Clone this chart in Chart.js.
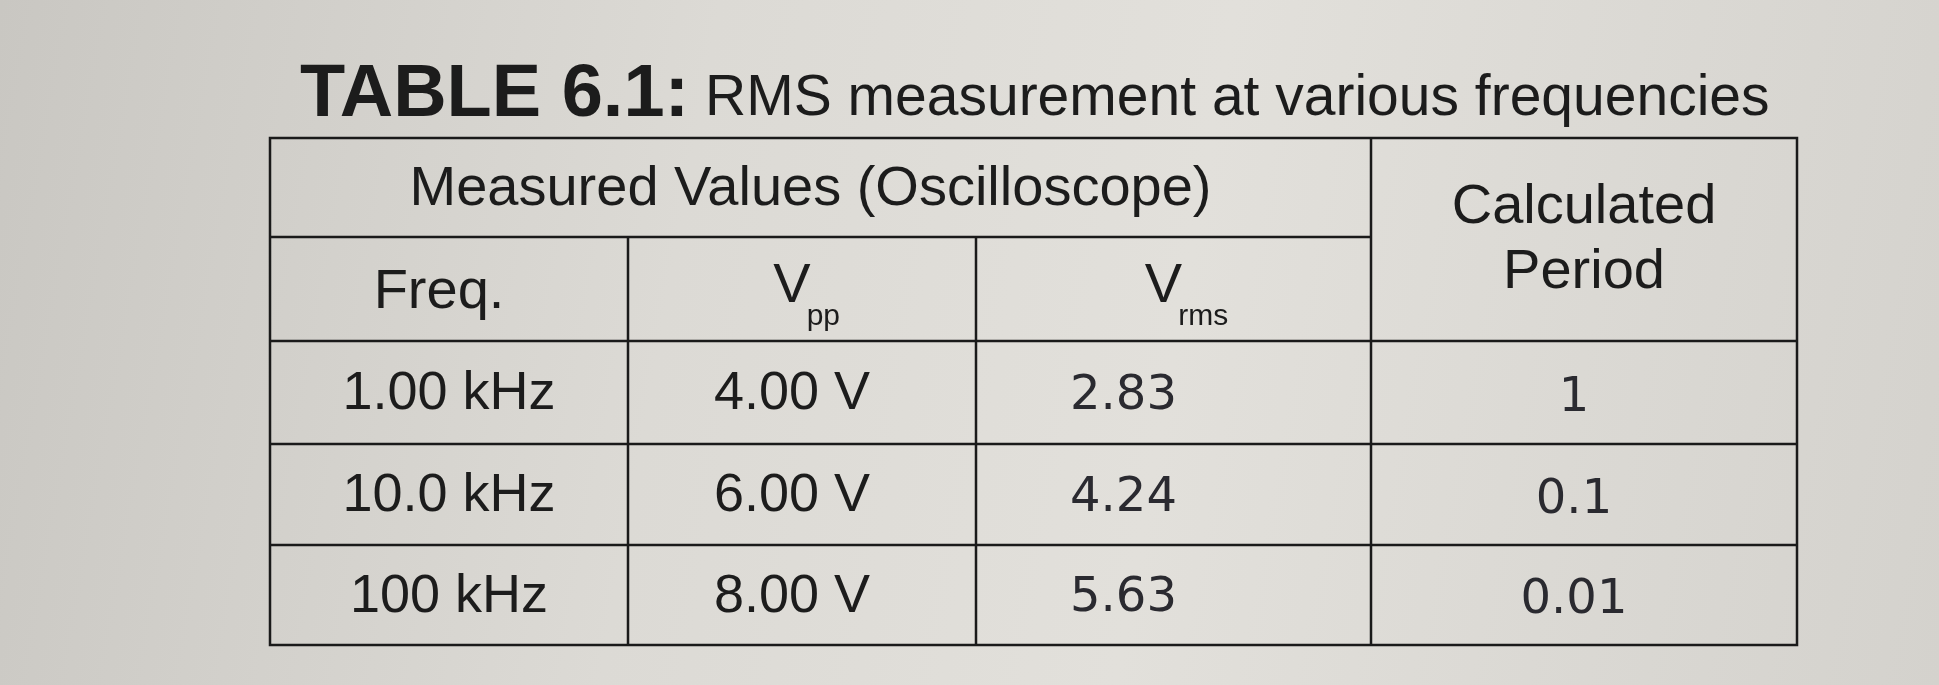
<!DOCTYPE html>
<html><head><meta charset="utf-8">
<script src="https://cdn.jsdelivr.net/npm/chart.js@4"></script>
<style>
html,body{margin:0;padding:0;}
body{width:1939px;height:685px;background:linear-gradient(100deg,#c9c7c2 0%,#dcdad5 35%,#e2e0db 60%,#d4d2cd 100%);overflow:hidden;}
canvas{display:block;}
</style></head><body>
<canvas id="c" width="1939" height="685"></canvas>
<script>
const title = ["TABLE 6.1:", " RMS measurement at various frequencies"];
const groupHeader = "Measured Values (Oscilloscope)";
const calcHeader = ["Calculated", "Period"];
const columnHeaders = [["Freq.",""],["V","pp"],["V","rms"]];
const freqs = ["1.00 kHz","10.0 kHz","100 kHz"];
const vpp = ["4.00 V","6.00 V","8.00 V"];
const vrms = ["2.83","4.24","5.63"];
const period = ["1","0.1","0.01"];
const colEdges = [0, 358, 706, 1101, 1527];
const rowEdges = [0, 99, 203, 306, 407, 507];

const tablePlugin = {
  id:'table',
  afterDraw(chart){
    const {ctx, scales:{x,y}} = chart;
    const X = v=>x.getPixelForValue(v), Y = v=>y.getPixelForValue(v);
    ctx.save();
    ctx.strokeStyle='#1a1a1a'; ctx.lineWidth=2.5;
    ctx.strokeRect(X(0),Y(0),X(1527)-X(0),Y(507)-Y(0));
    ctx.beginPath();
    ctx.moveTo(X(colEdges[3]),Y(0)); ctx.lineTo(X(colEdges[3]),Y(507));
    ctx.moveTo(X(colEdges[1]),Y(rowEdges[1])); ctx.lineTo(X(colEdges[1]),Y(507));
    ctx.moveTo(X(colEdges[2]),Y(rowEdges[1])); ctx.lineTo(X(colEdges[2]),Y(507));
    ctx.moveTo(X(0),Y(rowEdges[1])); ctx.lineTo(X(colEdges[3]),Y(rowEdges[1]));
    for(let i=2;i<5;i++){ctx.moveTo(X(0),Y(rowEdges[i])); ctx.lineTo(X(1527),Y(rowEdges[i]));}
    ctx.stroke();
    ctx.fillStyle='#1c1c1c'; ctx.textAlign='center'; ctx.textBaseline='middle';
    const F="'Liberation Sans', Arial, sans-serif";
    const cx=i=>(X(colEdges[i])+X(colEdges[i+1]))/2, cy=i=>(Y(rowEdges[i])+Y(rowEdges[i+1]))/2;
    ctx.textAlign='left';
    let tx=X(0)+30, ty=Y(0)-42;
    ctx.font='bold 74px '+F; const w1=ctx.measureText(title[0]).width;
    ctx.fillText(title[0],tx,ty);
    ctx.font='57px '+F; ctx.fillText(title[1],tx+w1,ty+3);
    ctx.textAlign='center';
    ctx.font='56px '+F;
    ctx.fillText(groupHeader,(X(0)+X(colEdges[3]))/2-10,cy(0)+2);
    ctx.fillText(calcHeader[0],cx(3),Y(70));
    ctx.fillText(calcHeader[1],cx(3),Y(135));
    columnHeaders.forEach((h,i)=>{
      ctx.font='56px '+F;
      if(!h[1]){ctx.fillText(h[0],cx(i)-10,cy(1)+4); return;}
      const mw=ctx.measureText(h[0]).width;
      ctx.fillText(h[0],cx(i)-10,cy(1)-2);
      ctx.font='30px '+F; ctx.textAlign='left';
      ctx.fillText(h[1],cx(i)-10+mw/2-4,cy(1)+28);
      ctx.textAlign='center';
    });
    ctx.font='54px '+F;
    for(let r=0;r<3;r++){
      ctx.fillText(freqs[r],cx(0),cy(r+2)+2);
      ctx.fillText(vpp[r],cx(1)-10,cy(r+2)+2);
    }
    ctx.font='48px "DejaVu Sans", sans-serif'; ctx.fillStyle='#2a2a30';
    for(let r=0;r<3;r++){
      ctx.fillText(vrms[r],cx(2)-50,cy(r+2)+4);
      ctx.fillText(period[r],cx(3)-10,cy(r+2)+6);
    }
    ctx.restore();
  }
};

new Chart(document.getElementById('c'),{
  type:'scatter',
  data:{datasets:[{data:freqs.map((f,i)=>({x:(colEdges[0]+colEdges[1])/2,y:(rowEdges[i+2]+rowEdges[i+3])/2})),pointRadius:0}]},
  options:{responsive:false,animation:false,
    layout:{padding:{left:270,right:142,top:138,bottom:40}},
    plugins:{legend:{display:false},tooltip:{enabled:false}},
    scales:{x:{type:'linear',min:0,max:1527,display:false},
            y:{type:'linear',min:0,max:507,reverse:true,display:false}}},
  plugins:[tablePlugin]
});
</script></body></html>
